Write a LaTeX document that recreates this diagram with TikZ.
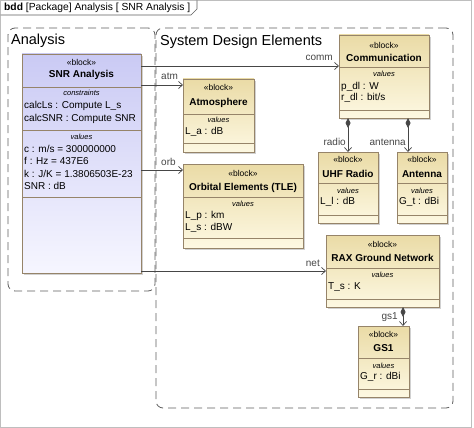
\documentclass[tikz,border=0pt]{standalone}
\usepackage{fontspec}
\setmainfont{Liberation Sans}
\usetikzlibrary{arrows.meta,calc,shadows}
\definecolor{lavtop}{RGB}{202,202,244}
\definecolor{lavbot}{RGB}{246,246,255}
\definecolor{beitop}{RGB}{234,219,166}
\definecolor{beibot}{RGB}{253,248,226}
\definecolor{bord}{RGB}{150,132,105}
\definecolor{lnk}{RGB}{70,70,70}
\definecolor{pkg}{RGB}{95,95,95}
\definecolor{frm}{RGB}{190,190,190}
\begin{document}
\begin{tikzpicture}[x=1pt,y=-1pt,
  blk/.style={draw=bord, line width=0.9pt, inner sep=0pt, outer sep=0pt, anchor=north west,
    drop shadow={shadow xshift=2pt, shadow yshift=-2pt, fill=black!45, opacity=0.4}},
  beige/.style={blk, top color=beitop, bottom color=beibot},
  lav/.style={blk, top color=lavtop, bottom color=lavbot},
  cmp/.style={draw=bord, line width=0.8pt},
  stereo/.style={font=\fontsize{8.5}{9}\selectfont, inner sep=0pt},
  bname/.style={font=\fontsize{10}{12}\selectfont\bfseries, inner sep=0pt},
  cmpt/.style={font=\fontsize{7.5}{8}\selectfont\itshape, inner sep=0pt},
  attr/.style={font=\fontsize{10}{12}\selectfont, inner sep=0pt, anchor=west},
  lbl/.style={font=\fontsize{10}{12}\selectfont, text=lnk, inner sep=0pt},
  assoc/.style={draw=lnk, line width=0.7pt, -{Straight Barb[length=4pt,width=7pt]}},
  comp/.style={draw=lnk, line width=0.7pt, {Diamond[length=10pt,width=5pt,fill=lnk]}-{Straight Barb[length=4pt,width=7pt]}},
  pkgbox/.style={draw=pkg, line width=0.8pt, dash pattern=on 8pt off 5pt, rounded corners=7pt, inner sep=0pt, outer sep=0pt, anchor=north west},
  pkglbl/.style={font=\fontsize{14.5}{16}\selectfont, inner sep=0pt, anchor=west}
]
\useasboundingbox (0,0) rectangle (474,428);
\fill[white] (0,0) rectangle (474,428);
% frame
\draw[frm, line width=0.8pt] (0.5,0.5) rectangle (471.5,427.5);
\draw[pkg, line width=0.7pt] (0.5,15) -- (191,15) -- (197,9) -- (197,0.5);
\node[font=\fontsize{10.3}{12}\selectfont, inner sep=0pt, anchor=west] (ttl) at (4,8) {\textbf{bdd} [Package] Analysis [ SNR Analysis ]};

% packages
\node[pkgbox, minimum width=147pt, minimum height=263pt] (pkgA) at (8,28) {};
\node[pkglbl] (pkgA-l) at (11,41) {Analysis};
\node[pkgbox, minimum width=297pt, minimum height=380pt] (pkgS) at (156,28) {};
\node[pkglbl] (pkgS-l) at (160,42) {System Design Elements};

% SNR Analysis
\node[lav, minimum width=119pt, minimum height=219pt] (snr) at (22,54) {};
\node[stereo] (snr-s) at (81.5,62) {«block»};
\node[bname] (snr-n) at (81.5,75) {SNR Analysis};
\draw[cmp] (22,87) -- (141,87);
\node[cmpt] (snr-c) at (81.5,93) {constraints};
\node[attr] (snr-a1) at (24,106) {calcLs : Compute L\_s};
\node[attr] (snr-a2) at (24,119) {calcSNR : Compute SNR};
\draw[cmp] (22,130) -- (141,130);
\node[cmpt] (snr-v) at (81.5,137) {values};
\node[attr] (snr-v1) at (24,149) {c : m/s = 300000000};
\node[attr] (snr-v2) at (24,161) {f : Hz = 437E6};
\node[attr] (snr-v3) at (24,173.5) {k : J/K = 1.3806503E-23};
\node[attr] (snr-v4) at (24,186) {SNR : dB};
\draw[cmp] (22,197) -- (141,197);

% Atmosphere
\node[beige, minimum width=71pt, minimum height=73pt] (atmos) at (183,79) {};
\node[stereo] (atmos-s) at (218.5,87) {«block»};
\node[bname] (atmos-n) at (218.5,103) {Atmosphere};
\draw[cmp] (183,114) -- (254,114);
\node[cmpt] (atmos-v) at (218.5,120) {values};
\node[attr] (atmos-v1) at (185,132) {L\_a : dB};
\draw[cmp] (183,143) -- (254,143);

% Orbital Elements
\node[beige, minimum width=120pt, minimum height=84pt] (orbit) at (183,164) {};
\node[stereo] (orbit-s) at (243,173) {«block»};
\node[bname] (orbit-n) at (243,188) {Orbital Elements (TLE)};
\draw[cmp] (183,197) -- (303,197);
\node[cmpt] (orbit-v) at (243,204) {values};
\node[attr] (orbit-v1) at (185,216) {L\_p : km};
\node[attr] (orbit-v2) at (185,228) {L\_s : dBW};
\draw[cmp] (183,238) -- (303,238);

% Communication
\node[beige, minimum width=90pt, minimum height=83pt] (comm) at (339,35) {};
\node[stereo] (comm-s) at (384,45) {«block»};
\node[bname] (comm-n) at (384,58) {Communication};
\draw[cmp] (339,67) -- (429,67);
\node[cmpt] (comm-v) at (384,74) {values};
\node[attr] (comm-v1) at (341,87) {p\_dl : W};
\node[attr] (comm-v2) at (341,97.5) {r\_dl : bit/s};
\draw[cmp] (339,110) -- (429,110);

% UHF Radio
\node[beige, minimum width=60pt, minimum height=71pt] (uhf) at (318,152) {};
\node[stereo] (uhf-s) at (348,159) {«block»};
\node[bname] (uhf-n) at (348,174) {UHF Radio};
\draw[cmp] (318,183) -- (378,183);
\node[cmpt] (uhf-v) at (348,191) {values};
\node[attr] (uhf-v1) at (320,202) {L\_l : dB};
\draw[cmp] (318,215) -- (378,215);

% Antenna
\node[beige, minimum width=50pt, minimum height=71pt] (ant) at (397,152) {};
\node[stereo] (ant-s) at (422,159) {«block»};
\node[bname] (ant-n) at (422,174) {Antenna};
\draw[cmp] (397,183) -- (447,183);
\node[cmpt] (ant-v) at (422,191) {values};
\node[attr] (ant-v1) at (399,202) {G\_t : dBi};
\draw[cmp] (397,215) -- (447,215);

% RAX Ground Network
\node[beige, minimum width=113pt, minimum height=72pt] (rax) at (326,235) {};
\node[stereo] (rax-s) at (382.5,244) {«block»};
\node[bname] (rax-n) at (382.5,258) {RAX Ground Network};
\draw[cmp] (326,268) -- (439,268);
\node[cmpt] (rax-v) at (382.5,275) {values};
\node[attr] (rax-v1) at (328,287) {T\_s : K};
\draw[cmp] (326,299) -- (439,299);

% GS1
\node[beige, minimum width=51pt, minimum height=71pt] (gs) at (358,326) {};
\node[stereo] (gs-s) at (383.5,334) {«block»};
\node[bname] (gs-n) at (383.5,348) {GS1};
\draw[cmp] (358,358) -- (409,358);
\node[cmpt] (gs-v) at (383.5,366) {values};
\node[attr] (gs-v1) at (360,377) {G\_r : dBi};
\draw[cmp] (358,389) -- (409,389);

% associations
\draw[assoc] ($(snr.north east)+(0,12)$) -- ($(comm.north west)+(0,31)$);
\node[lbl, anchor=east] (l-comm) at (333,58) {comm};
\draw[assoc] ($(snr.north east)+(0,31)$) -- ($(atmos.north west)+(0,6)$);
\node[lbl, anchor=west] (l-atm) at (161,76) {atm};
\draw[assoc] ($(snr.north east)+(0,116)$) -- ($(orbit.north west)+(0,6)$);
\node[lbl, anchor=west] (l-orb) at (161,162) {orb};
\draw[assoc] ($(snr.north east)+(0,217)$) -- ($(rax.north west)+(0,36)$);
\node[lbl, anchor=east] (l-net) at (320,263) {net};

% compositions
\draw[comp] ($(comm.south west)+(9,0)$) -- ($(uhf.north west)+(30,0)$);
\node[lbl, anchor=east] (l-radio) at (346,142) {radio};
\draw[comp] ($(comm.south west)+(69,0)$) -- ($(ant.north west)+(11,0)$);
\node[lbl, anchor=east] (l-ant) at (406,142) {antenna};
\draw[comp] ($(rax.south west)+(77,0)$) -- ($(gs.north west)+(45,0)$);
\node[lbl, anchor=east] (l-gs1) at (398,317) {gs1};
\end{tikzpicture}
\end{document}
